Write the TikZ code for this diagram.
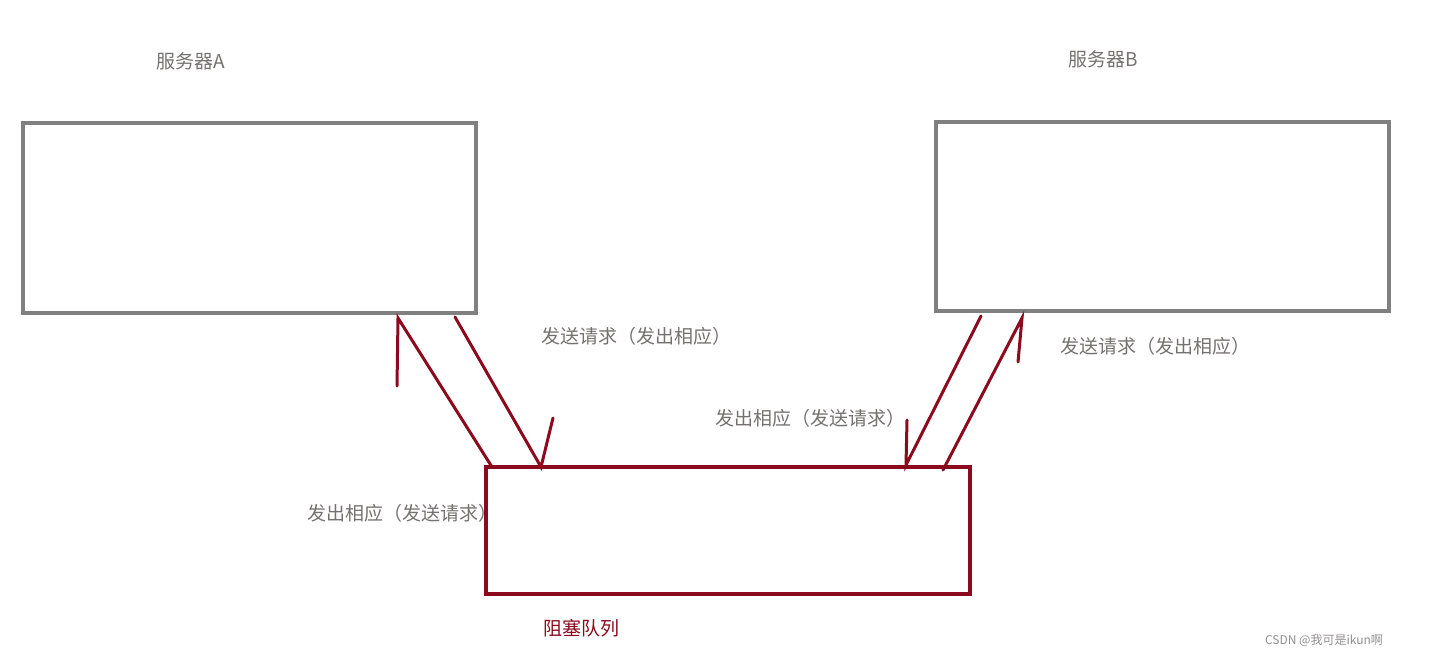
\documentclass[tikz,border=0pt]{standalone}
\usepackage{fontspec}
\setmainfont{Noto Sans CJK SC}
\definecolor{qred}{HTML}{8B0A1E}
\definecolor{tgray}{HTML}{767171}
\definecolor{bgray}{HTML}{808080}
\begin{document}
\begin{tikzpicture}[x=1pt,y=-1pt,
  box/.style={draw=bgray,line width=3.5pt},
  qbox/.style={draw=qred,line width=3.5pt},
  lbl/.style={text=tgray,font=\fontsize{19}{22}\selectfont,inner sep=0},
  hand/.style={draw=qred,line width=3pt,line cap=round}]
\useasboundingbox (0,0) rectangle (1431,662);
\node[box,minimum width=453pt,minimum height=190pt,inner sep=0] (A) at (249.5,218) {};
\node[box,minimum width=453pt,minimum height=189pt,inner sep=0] (B) at (1162.5,216.5) {};
\node[qbox,minimum width=484pt,minimum height=127pt,inner sep=0] (Q) at (728,530.5) {};
\node[lbl] (la) at (191,61) {服务器A};
\node[lbl] (lb) at (1103,59) {服务器B};
\node[lbl,text=qred] (lq) at (581,628) {阻塞队列};
\node[lbl] (t1) at (636,336) {发送请求（发出相应）};
\node[lbl] (t2) at (1155,346) {发送请求（发出相应）};
\node[lbl] (t3) at (810,418) {发出相应（发送请求）};
\node[lbl] (t4) at (402,513) {发出相应（发送请求）};
\node[text=tgray!80,font=\fontsize{12}{14}\selectfont,inner sep=0] (w) at (1324,641) {CSDN @我可是ikun啊};
\coordinate (a1) at (398,318); \coordinate (a1e) at (492,467); \coordinate (a1t) at (397,386);
\coordinate (a2) at (455,317); \coordinate (a2e) at (541,467); \coordinate (a2t) at (553,418);
\coordinate (b1) at (981,316); \coordinate (b1e) at (906,465); \coordinate (b1t) at (907,420);
\coordinate (b2) at (1022,318); \coordinate (b2e) at (943,470); \coordinate (b2t) at (1018,362);
\draw[hand] (a1t) -- (a1) -- (a1e);
\draw[hand] (a2) -- (a2e) -- (a2t);
\draw[hand] (b1) -- (b1e) -- (b1t);
\draw[hand] (b2e) -- (b2) -- (b2t);
\end{tikzpicture}
\end{document}
